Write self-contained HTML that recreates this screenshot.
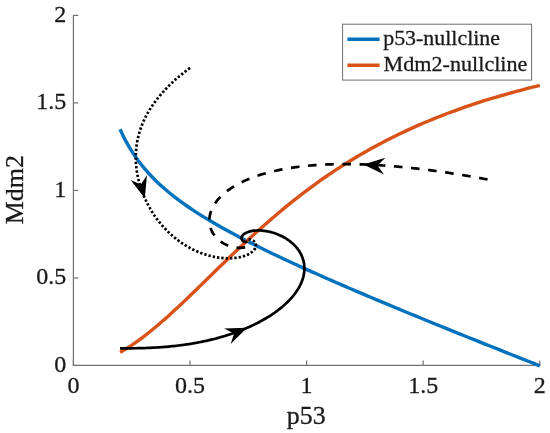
<!DOCTYPE html>
<html><head><meta charset="utf-8"><title>p53 Mdm2 nullclines</title>
<style>
html,body{margin:0;padding:0;background:#fff;}
svg{display:block;}
text{font-family:"Liberation Serif","DejaVu Serif",serif;fill:#1a1a1a;stroke:#1a1a1a;stroke-width:0.3px;}
</style></head><body>
<svg width="550" height="433" viewBox="0 0 550 433">
<rect x="0" y="0" width="550" height="433" fill="#ffffff"/>

<g stroke="#727272" stroke-width="1.2" fill="none">
<path d="M73.40 14.90 V365.45 H540.30"/>
<line x1="73.40" y1="365.45" x2="73.40" y2="360.55"/>
<line x1="73.40" y1="365.45" x2="78.30" y2="365.45"/>
<line x1="190.00" y1="365.45" x2="190.00" y2="360.55"/>
<line x1="73.40" y1="277.94" x2="78.30" y2="277.94"/>
<line x1="306.60" y1="365.45" x2="306.60" y2="360.55"/>
<line x1="73.40" y1="190.42" x2="78.30" y2="190.42"/>
<line x1="423.20" y1="365.45" x2="423.20" y2="360.55"/>
<line x1="73.40" y1="102.91" x2="78.30" y2="102.91"/>
<line x1="539.80" y1="365.45" x2="539.80" y2="360.55"/>
<line x1="73.40" y1="15.40" x2="78.30" y2="15.40"/>
</g>
<g fill="none" stroke-linejoin="round">
<path d="M120.04 129.25C121.05 131.31 124.10 137.86 126.12 141.64C128.15 145.42 130.18 148.76 132.21 151.94C134.23 155.13 136.26 158.00 138.29 160.74C140.32 163.49 142.35 166.01 144.37 168.43C146.40 170.85 148.43 173.09 150.46 175.26C152.49 177.42 154.51 179.46 156.54 181.42C158.57 183.39 160.60 185.25 162.62 187.06C164.65 188.87 166.68 190.59 168.71 192.27C170.74 193.95 172.76 195.56 174.79 197.13C176.82 198.70 178.85 200.21 180.87 201.69C182.90 203.18 184.93 204.61 186.96 206.02C188.99 207.42 191.01 208.79 193.04 210.13C195.07 211.47 197.10 212.78 199.13 214.07C201.15 215.36 203.18 216.62 205.21 217.86C207.24 219.09 209.26 220.31 211.29 221.51C213.32 222.71 215.35 223.88 217.38 225.05C219.40 226.21 221.43 227.35 223.46 228.48C225.49 229.61 227.51 230.73 229.54 231.83C231.57 232.93 233.60 234.02 235.63 235.10C237.65 236.17 239.68 237.24 241.71 238.29C243.74 239.35 245.77 240.39 247.79 241.42C249.82 242.46 251.85 243.48 253.88 244.50C255.90 245.52 257.93 246.52 259.96 247.52C261.99 248.52 264.02 249.51 266.04 250.50C268.07 251.49 270.10 252.46 272.13 253.44C274.15 254.41 276.18 255.37 278.21 256.33C280.24 257.29 282.27 258.24 284.29 259.19C286.32 260.14 288.35 261.08 290.38 262.02C292.41 262.96 294.43 263.89 296.46 264.82C298.49 265.75 300.52 266.67 302.54 267.59C304.57 268.51 306.60 269.43 308.63 270.34C310.66 271.25 312.68 272.16 314.71 273.06C316.74 273.97 318.77 274.87 320.79 275.76C322.82 276.66 324.85 277.56 326.88 278.45C328.91 279.34 330.93 280.22 332.96 281.11C334.99 281.99 337.02 282.88 339.05 283.76C341.07 284.64 343.10 285.51 345.13 286.39C347.16 287.26 349.18 288.13 351.21 289.00C353.24 289.87 355.27 290.74 357.30 291.60C359.32 292.47 361.35 293.33 363.38 294.19C365.41 295.05 367.43 295.91 369.46 296.76C371.49 297.62 373.52 298.47 375.55 299.33C377.57 300.18 379.60 301.03 381.63 301.88C383.66 302.73 385.69 303.58 387.71 304.42C389.74 305.27 391.77 306.11 393.80 306.95C395.82 307.80 397.85 308.64 399.88 309.48C401.91 310.32 403.94 311.16 405.96 311.99C407.99 312.83 410.02 313.66 412.05 314.50C414.07 315.33 416.10 316.17 418.13 317.00C420.16 317.83 422.19 318.66 424.21 319.49C426.24 320.32 428.27 321.15 430.30 321.97C432.33 322.80 434.35 323.62 436.38 324.45C438.41 325.27 440.44 326.10 442.46 326.92C444.49 327.74 446.52 328.56 448.55 329.39C450.58 330.21 452.60 331.03 454.63 331.85C456.66 332.66 458.69 333.48 460.71 334.30C462.74 335.12 464.77 335.93 466.80 336.75C468.83 337.56 470.85 338.38 472.88 339.19C474.91 340.01 476.94 340.82 478.97 341.63C480.99 342.44 483.02 343.25 485.05 344.06C487.08 344.88 489.10 345.69 491.13 346.49C493.16 347.30 495.19 348.11 497.22 348.92C499.24 349.73 501.27 350.54 503.30 351.34C505.33 352.15 507.35 352.96 509.38 353.76C511.41 354.57 513.44 355.37 515.47 356.18C517.49 356.98 519.52 357.78 521.55 358.59C523.58 359.39 525.61 360.19 527.63 360.99C529.66 361.80 531.69 362.60 533.72 363.40C535.74 364.20 538.79 365.40 539.80 365.80" stroke="#0072bd" stroke-width="3.4"/>
<path d="M120.04 352.32C121.05 351.73 124.10 350.00 126.12 348.76C128.15 347.51 130.18 346.20 132.21 344.85C134.23 343.49 136.26 342.07 138.29 340.62C140.32 339.16 142.35 337.64 144.37 336.09C146.40 334.54 148.43 332.94 150.46 331.30C152.49 329.67 154.51 327.99 156.54 326.28C158.57 324.57 160.60 322.82 162.62 321.05C164.65 319.28 166.68 317.47 168.71 315.64C170.74 313.81 172.76 311.96 174.79 310.08C176.82 308.21 178.85 306.31 180.87 304.40C182.90 302.50 184.93 300.57 186.96 298.63C188.99 296.69 191.01 294.74 193.04 292.78C195.07 290.82 197.10 288.85 199.13 286.88C201.15 284.91 203.18 282.93 205.21 280.95C207.24 278.97 209.26 276.99 211.29 275.01C213.32 273.03 215.35 271.06 217.38 269.08C219.40 267.11 221.43 265.14 223.46 263.18C225.49 261.22 227.51 259.27 229.54 257.32C231.57 255.38 233.60 253.44 235.63 251.51C237.65 249.59 239.68 247.67 241.71 245.77C243.74 243.87 245.77 241.98 247.79 240.11C249.82 238.23 251.85 236.37 253.88 234.53C255.90 232.68 257.93 230.85 259.96 229.04C261.99 227.23 264.02 225.43 266.04 223.65C268.07 221.87 270.10 220.11 272.13 218.37C274.15 216.63 276.18 214.90 278.21 213.19C280.24 211.49 282.27 209.80 284.29 208.13C286.32 206.47 288.35 204.82 290.38 203.19C292.41 201.56 294.43 199.95 296.46 198.36C298.49 196.77 300.52 195.20 302.54 193.65C304.57 192.10 306.60 190.57 308.63 189.06C310.66 187.55 312.68 186.06 314.71 184.59C316.74 183.12 318.77 181.66 320.79 180.23C322.82 178.80 324.85 177.39 326.88 176.00C328.91 174.61 330.93 173.23 332.96 171.88C334.99 170.53 337.02 169.19 339.05 167.88C341.07 166.56 343.10 165.27 345.13 163.99C347.16 162.71 349.18 161.45 351.21 160.21C353.24 158.97 355.27 157.75 357.30 156.54C359.32 155.34 361.35 154.15 363.38 152.98C365.41 151.82 367.43 150.66 369.46 149.53C371.49 148.40 373.52 147.28 375.55 146.18C377.57 145.08 379.60 143.99 381.63 142.93C383.66 141.86 385.69 140.81 387.71 139.77C389.74 138.74 391.77 137.72 393.80 136.71C395.82 135.71 397.85 134.72 399.88 133.75C401.91 132.77 403.94 131.81 405.96 130.87C407.99 129.92 410.02 128.99 412.05 128.08C414.07 127.16 416.10 126.26 418.13 125.37C420.16 124.48 422.19 123.61 424.21 122.75C426.24 121.89 428.27 121.04 430.30 120.21C432.33 119.37 434.35 118.55 436.38 117.74C438.41 116.93 440.44 116.13 442.46 115.35C444.49 114.56 446.52 113.79 448.55 113.03C450.58 112.26 452.60 111.51 454.63 110.78C456.66 110.04 458.69 109.31 460.71 108.59C462.74 107.88 464.77 107.17 466.80 106.47C468.83 105.78 470.85 105.10 472.88 104.42C474.91 103.75 476.94 103.08 478.97 102.43C480.99 101.77 483.02 101.13 485.05 100.49C487.08 99.86 489.10 99.23 491.13 98.62C493.16 98.00 495.19 97.39 497.22 96.79C499.24 96.20 501.27 95.61 503.30 95.03C505.33 94.45 507.35 93.87 509.38 93.31C511.41 92.75 513.44 92.19 515.47 91.64C517.49 91.09 519.52 90.56 521.55 90.02C523.58 89.49 525.61 88.97 527.63 88.45C529.66 87.93 531.69 87.43 533.72 86.92C535.74 86.42 538.79 85.69 539.80 85.44" stroke="#d95319" stroke-width="3.4"/>
<path d="M120.04 348.28C120.38 348.28 121.39 348.29 122.06 348.29C122.73 348.30 123.40 348.30 124.08 348.30C124.75 348.31 125.42 348.31 126.09 348.31C126.77 348.31 127.44 348.31 128.11 348.31C128.78 348.31 129.46 348.30 130.13 348.30C130.80 348.30 131.48 348.29 132.15 348.29C132.82 348.28 133.49 348.27 134.17 348.27C134.84 348.26 135.51 348.25 136.18 348.24C136.86 348.23 137.53 348.22 138.20 348.20C138.87 348.19 139.55 348.18 140.22 348.16C140.89 348.15 141.56 348.13 142.24 348.11C142.91 348.09 143.58 348.07 144.25 348.05C144.93 348.03 145.60 348.01 146.27 347.98C146.94 347.96 147.61 347.93 148.29 347.90C148.96 347.88 149.63 347.85 150.30 347.82C150.98 347.79 151.65 347.76 152.32 347.72C152.99 347.69 153.66 347.66 154.33 347.62C155.01 347.58 155.68 347.54 156.35 347.50C157.02 347.47 157.69 347.42 158.36 347.38C159.03 347.34 159.71 347.29 160.38 347.25C161.05 347.20 161.72 347.15 162.39 347.10C163.06 347.05 163.73 347.00 164.40 346.94C165.07 346.89 165.74 346.83 166.41 346.78C167.08 346.72 167.75 346.66 168.42 346.60C169.09 346.53 169.76 346.47 170.43 346.41C171.10 346.34 171.77 346.27 172.44 346.20C173.11 346.14 173.78 346.06 174.45 345.99C175.11 345.92 175.78 345.84 176.45 345.77C177.12 345.69 177.79 345.61 178.46 345.53C179.12 345.45 179.79 345.36 180.46 345.28C181.13 345.19 181.79 345.10 182.46 345.01C183.13 344.93 183.79 344.83 184.46 344.74C185.12 344.65 185.79 344.55 186.46 344.45C187.12 344.35 187.79 344.25 188.45 344.15C189.12 344.05 189.78 343.94 190.44 343.83C191.11 343.73 191.77 343.62 192.43 343.50C193.10 343.39 193.76 343.28 194.42 343.16C195.09 343.04 195.75 342.93 196.41 342.80C197.07 342.68 197.73 342.56 198.39 342.43C199.05 342.31 199.71 342.18 200.37 342.05C201.03 341.92 201.69 341.79 202.35 341.65C203.01 341.51 203.67 341.38 204.33 341.24C204.99 341.10 205.64 340.95 206.30 340.81C206.96 340.66 207.61 340.51 208.27 340.36C208.92 340.21 209.58 340.06 210.23 339.91C210.89 339.75 211.54 339.59 212.20 339.43C212.85 339.27 213.50 339.11 214.15 338.94C214.80 338.77 215.46 338.61 216.11 338.43C216.76 338.26 217.41 338.09 218.06 337.91C218.71 337.74 219.35 337.56 220.00 337.38C220.65 337.19 221.30 337.01 221.94 336.82C222.59 336.63 223.23 336.45 223.88 336.25C224.52 336.06 225.17 335.86 225.81 335.66C226.45 335.47 227.09 335.26 227.73 335.06C228.37 334.86 229.01 334.65 229.65 334.44C230.29 334.23 230.93 334.02 231.57 333.80C232.20 333.59 232.84 333.37 233.48 333.15C234.11 332.92 234.75 332.70 235.38 332.47C236.01 332.24 236.64 332.01 237.27 331.78C237.90 331.55 238.53 331.31 239.16 331.07C239.79 330.83 240.42 330.59 241.04 330.34C241.67 330.09 242.30 329.84 242.92 329.59C243.54 329.34 244.17 329.08 244.79 328.83C245.41 328.57 246.03 328.30 246.64 328.04C247.26 327.77 247.88 327.50 248.49 327.23C249.11 326.96 249.72 326.69 250.34 326.41C250.95 326.13 251.56 325.84 252.17 325.56C252.78 325.27 253.38 324.98 253.99 324.69C254.59 324.40 255.20 324.10 255.80 323.80C256.40 323.50 257.00 323.20 257.60 322.89C258.20 322.59 258.80 322.28 259.39 321.96C259.99 321.65 260.58 321.33 261.17 321.01C261.76 320.68 262.35 320.36 262.94 320.03C263.52 319.70 264.11 319.37 264.69 319.03C265.27 318.69 265.85 318.35 266.43 318.00C267.00 317.66 267.58 317.31 268.15 316.95C268.72 316.60 269.29 316.24 269.86 315.88C270.43 315.52 270.99 315.15 271.55 314.78C272.11 314.41 272.67 314.04 273.23 313.66C273.78 313.28 274.33 312.89 274.88 312.50C275.43 312.11 275.98 311.72 276.52 311.32C277.06 310.93 277.60 310.52 278.14 310.12C278.67 309.71 279.20 309.30 279.73 308.88C280.26 308.46 280.78 308.04 281.30 307.61C281.82 307.19 282.34 306.75 282.85 306.32C283.36 305.88 283.87 305.44 284.37 304.99C284.87 304.54 285.37 304.09 285.86 303.63C286.35 303.17 286.84 302.71 287.32 302.24C287.80 301.77 288.28 301.29 288.75 300.81C289.22 300.33 289.68 299.84 290.14 299.35C290.60 298.85 291.05 298.36 291.49 297.85C291.94 297.35 292.37 296.84 292.80 296.32C293.23 295.80 293.66 295.28 294.07 294.75C294.49 294.22 294.89 293.68 295.29 293.14C295.69 292.60 296.08 292.05 296.46 291.49C296.84 290.94 297.21 290.38 297.57 289.81C297.93 289.24 298.28 288.67 298.62 288.08C298.96 287.50 299.28 286.92 299.60 286.32C299.91 285.73 300.22 285.13 300.51 284.52C300.80 283.91 301.08 283.30 301.34 282.68C301.60 282.06 301.85 281.44 302.08 280.81C302.32 280.18 302.54 279.54 302.74 278.90C302.94 278.26 303.13 277.61 303.29 276.96C303.46 276.31 303.61 275.65 303.74 274.99C303.87 274.33 303.99 273.67 304.08 273.00C304.17 272.34 304.25 271.67 304.30 271.00C304.36 270.33 304.39 269.65 304.40 268.98C304.41 268.31 304.40 267.63 304.37 266.96C304.34 266.29 304.29 265.62 304.21 264.95C304.14 264.28 304.04 263.62 303.92 262.96C303.80 262.29 303.66 261.63 303.50 260.98C303.34 260.33 303.15 259.68 302.95 259.04C302.75 258.40 302.52 257.76 302.28 257.14C302.03 256.51 301.76 255.89 301.48 255.28C301.20 254.67 300.89 254.07 300.57 253.48C300.25 252.89 299.91 252.31 299.56 251.74C299.20 251.17 298.83 250.61 298.45 250.06C298.06 249.51 297.66 248.97 297.24 248.44C296.82 247.91 296.39 247.39 295.95 246.89C295.50 246.38 295.05 245.89 294.58 245.41C294.11 244.92 293.63 244.45 293.14 243.99C292.65 243.53 292.14 243.09 291.63 242.65C291.12 242.21 290.60 241.79 290.07 241.38C289.54 240.96 289.00 240.56 288.45 240.17C287.90 239.78 287.34 239.40 286.78 239.04C286.21 238.67 285.64 238.32 285.07 237.97C284.49 237.63 283.90 237.30 283.31 236.97C282.72 236.65 282.12 236.34 281.52 236.04C280.92 235.75 280.31 235.46 279.69 235.18C279.08 234.91 278.46 234.64 277.84 234.39C277.22 234.14 276.59 233.90 275.96 233.67C275.32 233.44 274.69 233.22 274.05 233.01C273.41 232.80 272.76 232.61 272.12 232.42C271.47 232.24 270.82 232.07 270.17 231.91C269.51 231.75 268.86 231.60 268.20 231.47C267.54 231.33 266.88 231.21 266.21 231.10C265.55 230.99 264.88 230.89 264.22 230.81C263.55 230.72 262.88 230.65 262.21 230.60C261.54 230.54 260.87 230.50 260.20 230.47C259.52 230.44 258.85 230.43 258.18 230.43C257.51 230.44 256.83 230.46 256.16 230.49C255.49 230.53 254.82 230.58 254.15 230.66C253.48 230.73 252.81 230.83 252.15 230.94C251.49 231.06 250.83 231.20 250.18 231.36C249.53 231.52 248.88 231.71 248.24 231.93C247.61 232.15 246.98 232.39 246.37 232.68C245.77 232.97 245.16 233.29 244.61 233.66C244.06 234.04 243.50 234.45 243.05 234.94C242.59 235.42 242.14 235.97 241.88 236.57C241.63 237.17 241.45 237.90 241.53 238.53C241.60 239.16 241.92 239.86 242.32 240.36C242.72 240.86 243.33 241.28 243.93 241.54C244.52 241.81 245.32 242.04 245.89 241.95C246.45 241.87 247.08 241.18 247.32 241.02" stroke="#000" stroke-width="2.7"/>
<path d="M190.00 67.92C189.73 68.12 188.92 68.72 188.38 69.12C187.84 69.52 187.30 69.93 186.77 70.34C186.23 70.74 185.70 71.16 185.17 71.57C184.64 71.98 184.11 72.40 183.58 72.82C183.05 73.23 182.53 73.66 182.01 74.08C181.49 74.50 180.97 74.93 180.45 75.36C179.93 75.79 179.41 76.22 178.90 76.66C178.39 77.09 177.88 77.53 177.37 77.97C176.86 78.41 176.36 78.86 175.85 79.30C175.35 79.75 174.85 80.20 174.35 80.65C173.85 81.11 173.36 81.56 172.86 82.02C172.37 82.48 171.88 82.94 171.39 83.40C170.91 83.87 170.42 84.33 169.94 84.80C169.46 85.27 168.98 85.75 168.50 86.22C168.03 86.70 167.56 87.18 167.09 87.66C166.62 88.14 166.15 88.63 165.69 89.12C165.23 89.60 164.77 90.10 164.31 90.59C163.86 91.09 163.40 91.58 162.95 92.08C162.50 92.59 162.06 93.09 161.62 93.60C161.18 94.11 160.74 94.62 160.30 95.13C159.87 95.64 159.44 96.16 159.01 96.68C158.58 97.20 158.16 97.73 157.74 98.25C157.33 98.78 156.91 99.31 156.50 99.85C156.09 100.38 155.69 100.92 155.29 101.46C154.89 102.00 154.49 102.54 154.10 103.09C153.71 103.64 153.32 104.19 152.94 104.74C152.55 105.29 152.18 105.85 151.80 106.41C151.43 106.97 151.06 107.53 150.70 108.10C150.34 108.67 149.98 109.24 149.63 109.81C149.28 110.39 148.93 110.96 148.59 111.54C148.25 112.12 147.92 112.71 147.59 113.29C147.26 113.88 146.93 114.47 146.61 115.06C146.29 115.65 145.98 116.25 145.68 116.85C145.37 117.45 145.07 118.05 144.78 118.66C144.49 119.26 144.20 119.87 143.92 120.48C143.63 121.09 143.36 121.71 143.09 122.33C142.83 122.94 142.57 123.56 142.31 124.19C142.06 124.81 141.81 125.43 141.57 126.06C141.33 126.69 141.10 127.32 140.87 127.96C140.64 128.59 140.42 129.23 140.21 129.87C140.00 130.50 139.80 131.15 139.60 131.79C139.40 132.43 139.21 133.08 139.03 133.73C138.85 134.37 138.67 135.02 138.50 135.67C138.34 136.33 138.18 136.98 138.03 137.64C137.87 138.29 137.73 138.95 137.59 139.61C137.46 140.27 137.33 140.93 137.21 141.59C137.08 142.25 136.97 142.91 136.87 143.58C136.76 144.24 136.66 144.91 136.57 145.58C136.48 146.24 136.40 146.91 136.33 147.58C136.25 148.25 136.18 148.92 136.13 149.59C136.07 150.26 136.02 150.93 135.97 151.60C135.93 152.27 135.90 152.94 135.87 153.62C135.84 154.29 135.82 154.96 135.81 155.63C135.79 156.31 135.79 156.98 135.79 157.65C135.80 158.33 135.81 159.00 135.82 159.67C135.84 160.34 135.87 161.02 135.90 161.69C135.93 162.36 135.97 163.03 136.02 163.70C136.07 164.37 136.12 165.04 136.18 165.71C136.24 166.38 136.31 167.05 136.39 167.72C136.47 168.39 136.55 169.06 136.64 169.73C136.73 170.39 136.83 171.06 136.93 171.72C137.03 172.39 137.14 173.05 137.26 173.71C137.38 174.38 137.50 175.04 137.63 175.70C137.77 176.36 137.90 177.02 138.05 177.67C138.19 178.33 138.34 178.99 138.50 179.64C138.66 180.30 138.82 180.95 138.99 181.60C139.16 182.25 139.33 182.90 139.52 183.55C139.70 184.20 139.89 184.84 140.08 185.49C140.28 186.13 140.48 186.77 140.69 187.41C140.89 188.05 141.11 188.69 141.32 189.33C141.54 189.96 141.77 190.60 142.00 191.23C142.23 191.86 142.47 192.49 142.71 193.12C142.95 193.75 143.20 194.37 143.45 195.00C143.71 195.62 143.97 196.24 144.23 196.86C144.50 197.48 144.77 198.09 145.05 198.70C145.33 199.32 145.61 199.93 145.90 200.54C146.18 201.15 146.48 201.75 146.78 202.35C147.07 202.96 147.38 203.56 147.69 204.15C148.00 204.75 148.32 205.35 148.64 205.94C148.96 206.53 149.28 207.12 149.62 207.70C149.95 208.29 150.28 208.87 150.63 209.45C150.97 210.03 151.32 210.61 151.67 211.18C152.02 211.75 152.38 212.32 152.74 212.89C153.11 213.45 153.47 214.02 153.85 214.58C154.22 215.14 154.60 215.69 154.98 216.24C155.37 216.80 155.76 217.35 156.15 217.89C156.54 218.44 156.94 218.98 157.35 219.52C157.75 220.06 158.16 220.59 158.57 221.12C158.99 221.65 159.41 222.18 159.83 222.70C160.26 223.22 160.68 223.74 161.12 224.26C161.55 224.77 161.99 225.28 162.43 225.79C162.88 226.29 163.33 226.79 163.78 227.29C164.23 227.79 164.69 228.28 165.15 228.77C165.61 229.26 166.08 229.75 166.55 230.23C167.02 230.70 167.50 231.18 167.98 231.65C168.46 232.12 168.95 232.59 169.44 233.05C169.93 233.51 170.42 233.97 170.92 234.42C171.42 234.87 171.92 235.31 172.43 235.76C172.94 236.20 173.45 236.63 173.97 237.06C174.49 237.50 175.01 237.92 175.53 238.34C176.06 238.76 176.59 239.18 177.12 239.59C177.65 240.00 178.19 240.40 178.73 240.80C179.28 241.20 179.82 241.59 180.37 241.98C180.92 242.37 181.48 242.75 182.03 243.13C182.59 243.50 183.15 243.87 183.72 244.24C184.28 244.60 184.85 244.96 185.43 245.31C186.00 245.67 186.58 246.01 187.16 246.35C187.74 246.69 188.32 247.03 188.91 247.35C189.50 247.68 190.09 248.00 190.68 248.32C191.28 248.63 191.88 248.94 192.48 249.25C193.08 249.55 193.68 249.84 194.29 250.13C194.90 250.42 195.51 250.70 196.12 250.98C196.74 251.25 197.35 251.52 197.97 251.78C198.59 252.04 199.22 252.30 199.84 252.55C200.47 252.79 201.10 253.03 201.73 253.27C202.36 253.50 202.99 253.73 203.63 253.94C204.27 254.16 204.91 254.37 205.55 254.58C206.19 254.78 206.83 254.98 207.48 255.16C208.12 255.35 208.77 255.53 209.42 255.71C210.07 255.88 210.73 256.04 211.38 256.20C212.04 256.36 212.69 256.50 213.35 256.64C214.01 256.78 214.67 256.92 215.33 257.04C215.99 257.16 216.65 257.28 217.32 257.38C217.98 257.49 218.65 257.59 219.32 257.68C219.98 257.77 220.65 257.85 221.32 257.92C221.99 257.99 222.66 258.05 223.33 258.10C224.00 258.15 224.67 258.19 225.34 258.22C226.02 258.26 226.69 258.28 227.36 258.29C228.03 258.30 228.71 258.30 229.38 258.30C230.05 258.29 230.73 258.27 231.40 258.24C232.07 258.20 232.74 258.16 233.41 258.11C234.08 258.05 234.75 257.99 235.42 257.91C236.09 257.83 236.76 257.74 237.42 257.63C238.09 257.53 238.75 257.41 239.41 257.28C240.07 257.15 240.73 257.00 241.38 256.84C242.03 256.68 242.68 256.50 243.32 256.30C243.97 256.11 244.61 255.90 245.24 255.67C245.87 255.43 246.50 255.18 247.11 254.91C247.73 254.64 248.33 254.35 248.93 254.03C249.52 253.71 250.10 253.37 250.66 253.00C251.22 252.63 251.77 252.23 252.28 251.80C252.79 251.36 253.29 250.90 253.73 250.39C254.17 249.89 254.59 249.35 254.92 248.76C255.24 248.18 255.53 247.55 255.68 246.90C255.83 246.26 255.90 245.55 255.83 244.90C255.75 244.25 255.54 243.57 255.23 242.98C254.93 242.40 254.49 241.85 254.01 241.39C253.53 240.93 252.96 240.54 252.37 240.23C251.78 239.91 251.13 239.67 250.49 239.51C249.84 239.35 248.82 239.32 248.49 239.29" stroke="#000" stroke-width="2.7" stroke-dasharray="2.35 2.0"/>
<path d="M487.56 179.45C487.23 179.39 486.24 179.20 485.57 179.08C484.91 178.95 484.25 178.83 483.59 178.71C482.92 178.59 482.26 178.46 481.60 178.34C480.93 178.22 480.27 178.10 479.61 177.98C478.94 177.86 478.28 177.74 477.61 177.62C476.95 177.51 476.29 177.39 475.62 177.27C474.96 177.15 474.30 177.04 473.63 176.92C472.97 176.80 472.30 176.69 471.64 176.57C470.97 176.46 470.31 176.34 469.64 176.23C468.98 176.12 468.32 176.00 467.65 175.89C466.99 175.78 466.32 175.66 465.66 175.55C464.99 175.44 464.33 175.33 463.66 175.22C463.00 175.11 462.33 175.00 461.67 174.89C461.00 174.78 460.33 174.67 459.67 174.57C459.00 174.46 458.34 174.35 457.67 174.24C457.01 174.14 456.34 174.03 455.67 173.93C455.01 173.82 454.34 173.72 453.68 173.61C453.01 173.51 452.34 173.41 451.68 173.30C451.01 173.20 450.34 173.10 449.68 173.00C449.01 172.90 448.34 172.80 447.68 172.70C447.01 172.60 446.34 172.50 445.68 172.40C445.01 172.30 444.34 172.20 443.67 172.11C443.01 172.01 442.34 171.91 441.67 171.82C441.00 171.72 440.34 171.63 439.67 171.53C439.00 171.44 438.33 171.34 437.67 171.25C437.00 171.16 436.33 171.07 435.66 170.97C434.99 170.88 434.33 170.79 433.66 170.70C432.99 170.61 432.32 170.52 431.65 170.43C430.98 170.35 430.32 170.26 429.65 170.17C428.98 170.08 428.31 170.00 427.64 169.91C426.97 169.83 426.30 169.74 425.63 169.66C424.97 169.57 424.30 169.49 423.63 169.41C422.96 169.33 422.29 169.24 421.62 169.16C420.95 169.08 420.28 169.00 419.61 168.92C418.94 168.84 418.27 168.77 417.60 168.69C416.93 168.61 416.26 168.53 415.59 168.46C414.92 168.38 414.25 168.31 413.58 168.23C412.91 168.16 412.24 168.08 411.57 168.01C410.90 167.94 410.23 167.87 409.56 167.80C408.89 167.73 408.22 167.66 407.55 167.59C406.88 167.52 406.21 167.45 405.54 167.38C404.86 167.31 404.19 167.25 403.52 167.18C402.85 167.12 402.18 167.05 401.51 166.99C400.84 166.92 400.17 166.86 399.49 166.80C398.82 166.74 398.15 166.67 397.48 166.61C396.81 166.55 396.14 166.50 395.47 166.44C394.79 166.38 394.12 166.32 393.45 166.27C392.78 166.21 392.11 166.15 391.43 166.10C390.76 166.04 390.09 165.99 389.42 165.94C388.75 165.89 388.07 165.83 387.40 165.78C386.73 165.73 386.06 165.68 385.38 165.64C384.71 165.59 384.04 165.54 383.37 165.49C382.69 165.45 382.02 165.40 381.35 165.36C380.67 165.31 380.00 165.27 379.33 165.23C378.66 165.18 377.98 165.14 377.31 165.10C376.64 165.06 375.96 165.02 375.29 164.99C374.62 164.95 373.94 164.91 373.27 164.88C372.60 164.84 371.92 164.81 371.25 164.77C370.58 164.74 369.90 164.71 369.23 164.68C368.56 164.65 367.88 164.62 367.21 164.59C366.54 164.56 365.86 164.53 365.19 164.50C364.51 164.48 363.84 164.45 363.17 164.43C362.49 164.40 361.82 164.38 361.14 164.36C360.47 164.34 359.80 164.32 359.12 164.30C358.45 164.28 357.77 164.26 357.10 164.25C356.43 164.23 355.75 164.22 355.08 164.20C354.40 164.19 353.73 164.18 353.06 164.16C352.38 164.15 351.71 164.14 351.03 164.14C350.36 164.13 349.68 164.12 349.01 164.11C348.34 164.11 347.66 164.10 346.99 164.10C346.31 164.10 345.64 164.10 344.96 164.10C344.29 164.10 343.62 164.10 342.94 164.10C342.27 164.10 341.59 164.11 340.92 164.11C340.25 164.12 339.57 164.13 338.90 164.14C338.22 164.15 337.55 164.16 336.87 164.17C336.20 164.18 335.53 164.19 334.85 164.21C334.18 164.22 333.50 164.24 332.83 164.26C332.16 164.28 331.48 164.30 330.81 164.32C330.13 164.34 329.46 164.36 328.79 164.39C328.11 164.41 327.44 164.44 326.76 164.47C326.09 164.50 325.42 164.53 324.74 164.56C324.07 164.59 323.40 164.62 322.72 164.66C322.05 164.69 321.38 164.73 320.70 164.77C320.03 164.81 319.36 164.85 318.68 164.89C318.01 164.93 317.34 164.98 316.67 165.03C315.99 165.07 315.32 165.12 314.65 165.17C313.98 165.22 313.30 165.27 312.63 165.33C311.96 165.38 311.29 165.44 310.62 165.50C309.94 165.56 309.27 165.62 308.60 165.68C307.93 165.74 307.26 165.81 306.59 165.87C305.92 165.94 305.25 166.01 304.58 166.08C303.91 166.15 303.23 166.22 302.56 166.30C301.89 166.37 301.23 166.45 300.56 166.53C299.89 166.61 299.22 166.69 298.55 166.78C297.88 166.86 297.21 166.95 296.54 167.04C295.87 167.13 295.21 167.22 294.54 167.32C293.87 167.41 293.20 167.51 292.54 167.61C291.87 167.70 291.20 167.81 290.54 167.91C289.87 168.02 289.20 168.12 288.54 168.23C287.87 168.34 287.21 168.45 286.54 168.57C285.88 168.68 285.22 168.80 284.55 168.92C283.89 169.04 283.23 169.17 282.56 169.29C281.90 169.42 281.24 169.55 280.58 169.68C279.92 169.81 279.26 169.95 278.60 170.09C277.94 170.22 277.28 170.37 276.62 170.51C275.96 170.65 275.30 170.80 274.65 170.95C273.99 171.10 273.33 171.26 272.68 171.41C272.02 171.57 271.37 171.73 270.71 171.89C270.06 172.06 269.40 172.23 268.75 172.40C268.10 172.57 267.45 172.74 266.80 172.92C266.15 173.10 265.50 173.28 264.85 173.46C264.20 173.65 263.55 173.84 262.91 174.03C262.26 174.22 261.62 174.42 260.97 174.62C260.33 174.82 259.69 175.02 259.05 175.23C258.40 175.44 257.76 175.65 257.13 175.87C256.49 176.09 255.85 176.31 255.21 176.53C254.58 176.76 253.95 176.99 253.31 177.22C252.68 177.46 252.05 177.70 251.42 177.94C250.79 178.18 250.17 178.43 249.54 178.68C248.92 178.94 248.29 179.19 247.67 179.46C247.05 179.72 246.43 179.99 245.81 180.26C245.20 180.53 244.58 180.81 243.97 181.09C243.36 181.38 242.75 181.67 242.14 181.96C241.54 182.25 240.93 182.55 240.33 182.86C239.73 183.16 239.13 183.47 238.54 183.79C237.94 184.11 237.35 184.43 236.76 184.76C236.17 185.09 235.59 185.43 235.01 185.77C234.43 186.11 233.85 186.46 233.28 186.81C232.70 187.17 232.13 187.53 231.57 187.90C231.00 188.27 230.44 188.64 229.89 189.03C229.33 189.41 228.78 189.80 228.24 190.20C227.69 190.59 227.15 191.00 226.62 191.41C226.09 191.82 225.56 192.24 225.04 192.67C224.52 193.10 224.01 193.54 223.50 193.98C222.99 194.43 222.49 194.88 222.00 195.34C221.51 195.80 221.03 196.27 220.55 196.75C220.08 197.23 219.61 197.72 219.16 198.22C218.70 198.72 218.26 199.22 217.82 199.74C217.39 200.25 216.96 200.78 216.55 201.31C216.14 201.85 215.74 202.39 215.36 202.94C214.97 203.50 214.60 204.06 214.24 204.63C213.89 205.20 213.54 205.78 213.22 206.37C212.89 206.96 212.58 207.56 212.29 208.17C212.00 208.78 211.73 209.40 211.48 210.02C211.22 210.65 210.99 211.28 210.78 211.92C210.57 212.56 210.38 213.21 210.21 213.86C210.05 214.52 209.90 215.18 209.78 215.84C209.67 216.50 209.57 217.17 209.51 217.84C209.44 218.51 209.40 219.19 209.39 219.86C209.37 220.53 209.38 221.21 209.43 221.88C209.47 222.56 209.54 223.23 209.63 223.90C209.73 224.56 209.85 225.23 210.00 225.88C210.15 226.54 210.33 227.19 210.54 227.83C210.74 228.47 210.97 229.11 211.23 229.73C211.49 230.36 211.77 230.97 212.08 231.57C212.38 232.17 212.71 232.76 213.06 233.34C213.41 233.91 213.79 234.47 214.18 235.02C214.57 235.57 214.99 236.10 215.42 236.62C215.86 237.13 216.31 237.64 216.78 238.12C217.24 238.60 217.73 239.07 218.23 239.53C218.73 239.98 219.25 240.41 219.77 240.83C220.30 241.25 220.85 241.65 221.40 242.03C221.96 242.42 222.52 242.78 223.10 243.13C223.68 243.48 224.27 243.81 224.86 244.12C225.46 244.43 226.07 244.73 226.68 245.00C227.30 245.28 227.92 245.53 228.55 245.77C229.19 246.01 229.82 246.23 230.47 246.43C231.11 246.63 231.76 246.81 232.42 246.96C233.07 247.12 233.73 247.26 234.40 247.38C235.06 247.50 235.73 247.60 236.40 247.67C237.07 247.75 237.74 247.80 238.41 247.82C239.09 247.85 239.76 247.86 240.44 247.83C241.11 247.80 241.78 247.76 242.45 247.67C243.12 247.58 243.79 247.47 244.44 247.32C245.10 247.16 246.06 246.83 246.38 246.74" stroke="#000" stroke-width="2.7" stroke-dasharray="8.6 8.6"/>
</g>
<g fill="#000" stroke="none">
<path d="M247.11 327.84 L224.02 328.44 L234.05 333.41 L230.69 344.09 Z"/>
<path d="M144.82 198.19 L146.95 175.19 L140.83 184.56 L130.63 179.96 Z"/>
<path d="M363.33 164.43 L384.07 174.60 L377.49 165.55 L385.41 157.64 Z"/>
</g>
<g font-size="24.0">
<text x="73.4" y="392.7" text-anchor="middle">0</text>
<text x="66.3" y="371.6" text-anchor="end">0</text>
<text x="190.0" y="392.7" text-anchor="middle">0.5</text>
<text x="66.3" y="284.1" text-anchor="end">0.5</text>
<text x="306.6" y="392.7" text-anchor="middle">1</text>
<text x="66.3" y="196.6" text-anchor="end">1</text>
<text x="423.2" y="392.7" text-anchor="middle">1.5</text>
<text x="66.3" y="109.1" text-anchor="end">1.5</text>
<text x="539.8" y="392.7" text-anchor="middle">2</text>
<text x="66.3" y="21.6" text-anchor="end">2</text>
<text x="306.2" y="423.7" font-size="24.8" text-anchor="middle" textLength="38.8" lengthAdjust="spacingAndGlyphs">p53</text>
<text transform="translate(23.1,189.7) rotate(-90)" font-size="24.9" text-anchor="middle" textLength="69.2" lengthAdjust="spacingAndGlyphs">Mdm2</text>
</g>
<rect x="342.6" y="24.2" width="189" height="55.9" fill="#fff" stroke="#6e6e6e" stroke-width="1"/>
<line x1="347.4" y1="39.3" x2="379.6" y2="39.3" stroke="#0072bd" stroke-width="3.4"/>
<line x1="347.4" y1="65.2" x2="379.6" y2="65.2" stroke="#d95319" stroke-width="3.4"/>
<g font-size="21.6" style="fill:#000;stroke:#000;stroke-width:0.4px">
<text x="383.2" y="44.8" textLength="116.8" lengthAdjust="spacingAndGlyphs">p53-nullcline</text>
<text x="383.6" y="70.6" textLength="143.8" lengthAdjust="spacingAndGlyphs">Mdm2-nullcline</text>
</g>
</svg></body></html>
